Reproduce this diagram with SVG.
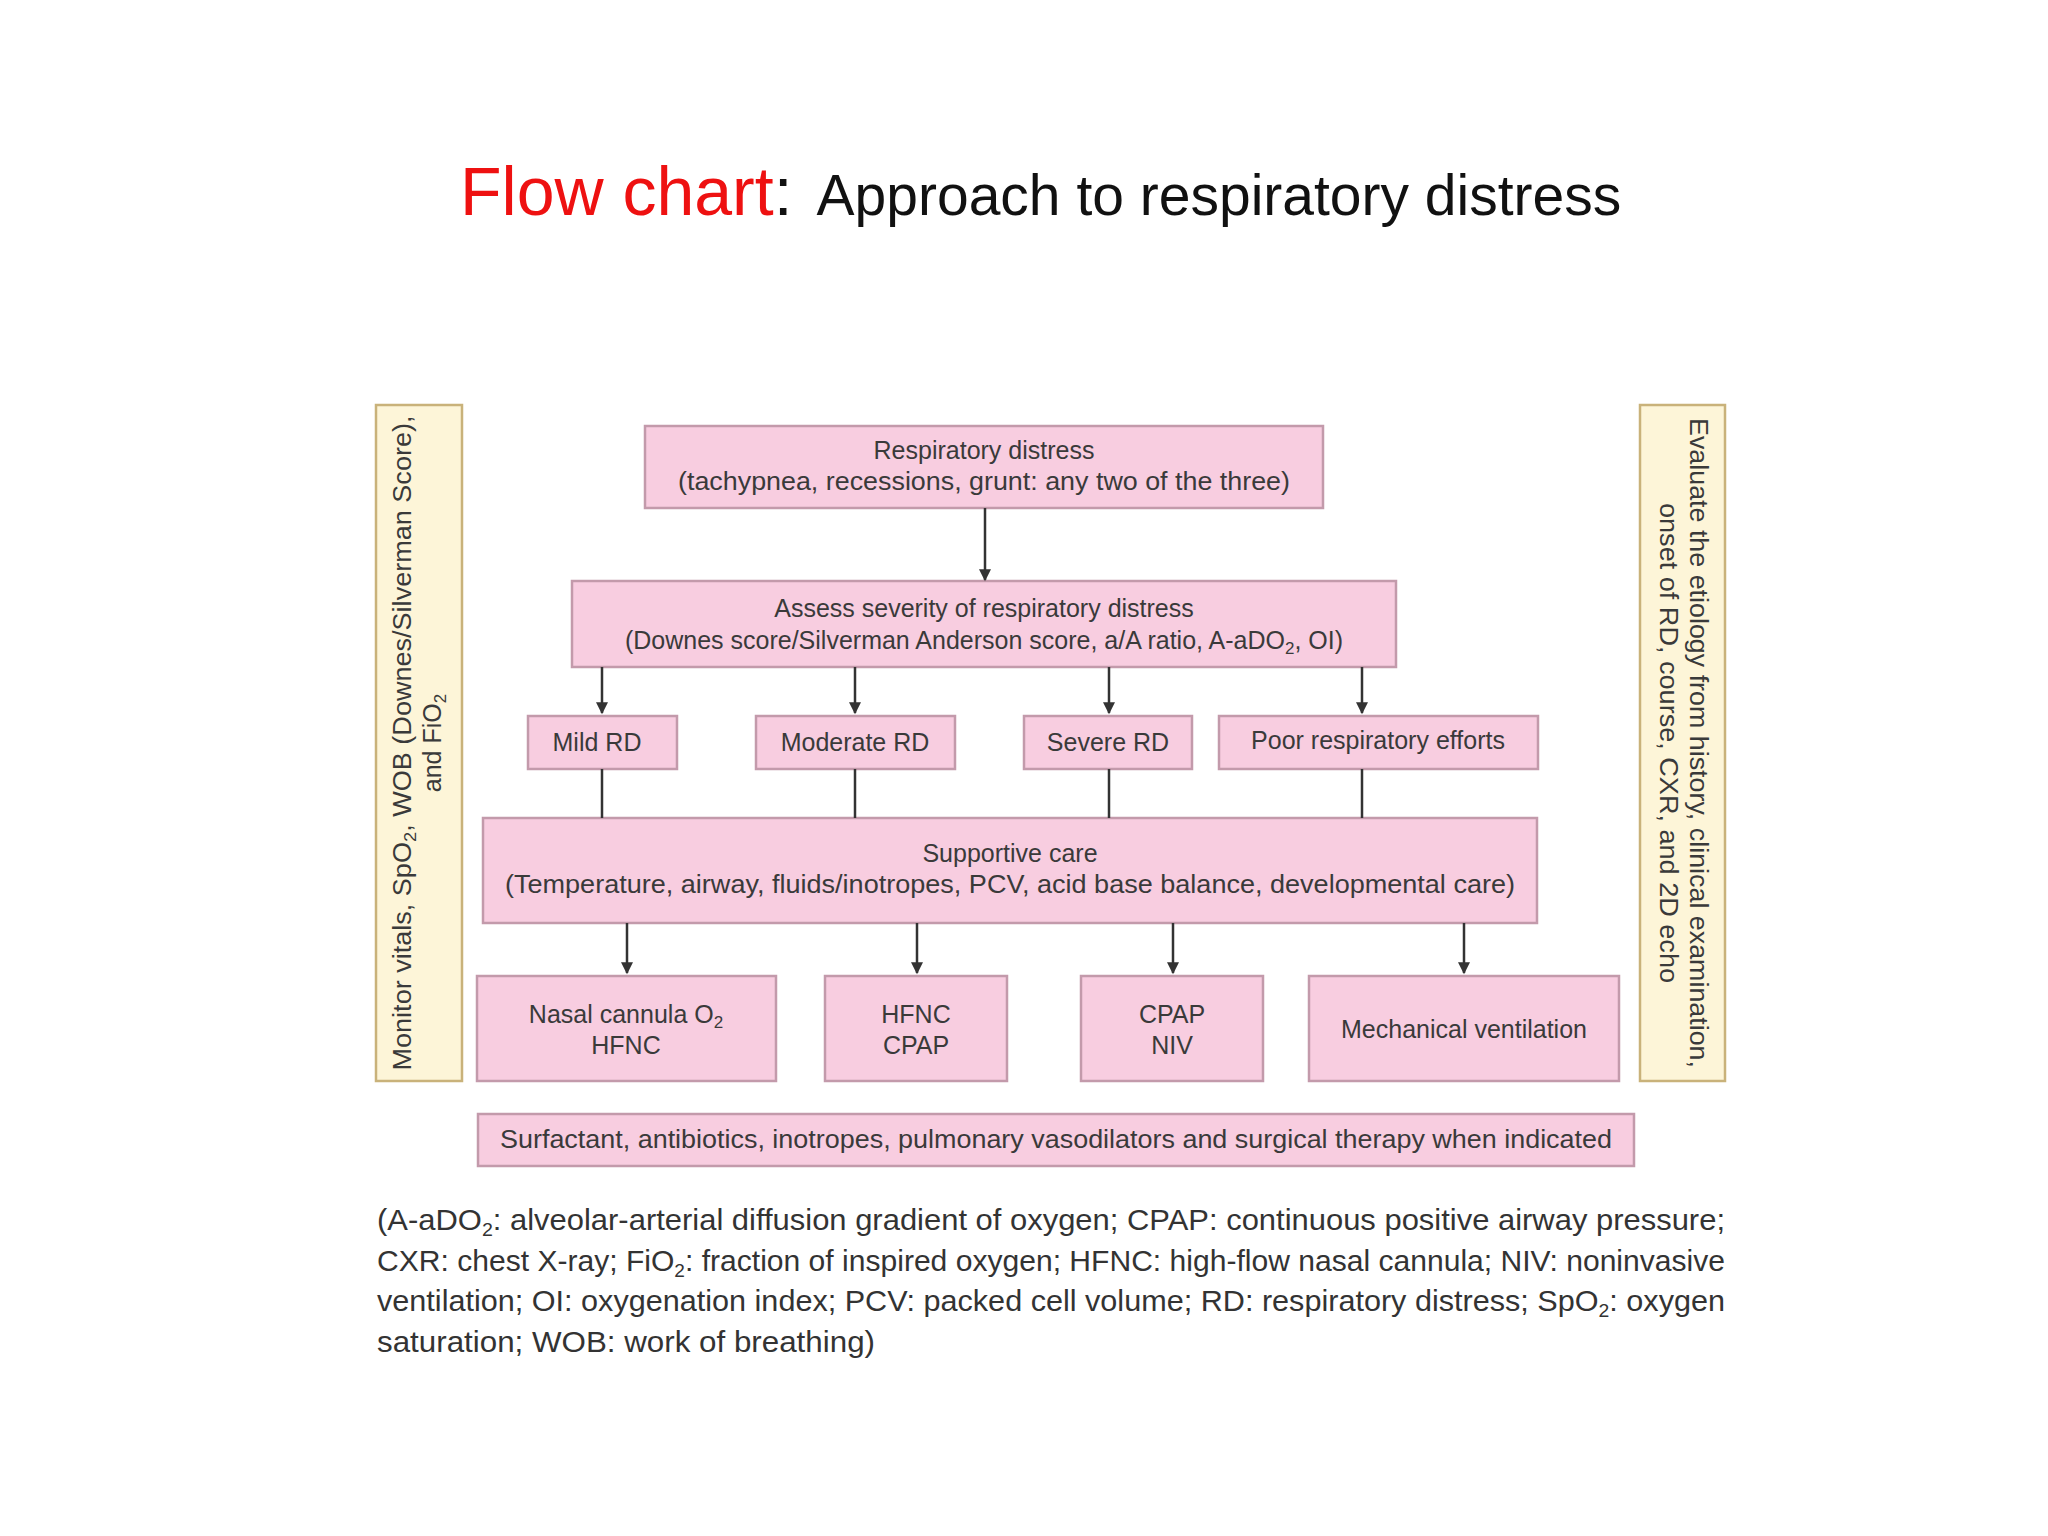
<svg xmlns="http://www.w3.org/2000/svg" width="2048" height="1536" viewBox="0 0 2048 1536">
<defs>
<marker id="ah" viewBox="0 0 10 10" refX="9" refY="5" markerWidth="14" markerHeight="12" markerUnits="userSpaceOnUse" orient="auto"><path d="M0,0 L10,5 L0,10 z" fill="#333"/></marker>
<style>
.b{fill:#f8cde0;stroke:#c39aab;stroke-width:2.5}
.s{fill:#fdf5d8;stroke:#c9b27a;stroke-width:2.5}
.t{font-family:"Liberation Sans",Arial,sans-serif;font-size:25px;fill:#3a3a3a;text-anchor:middle}
.f{font-family:"Liberation Sans",Arial,sans-serif;font-size:30px;fill:#333}
.c{stroke:#333;stroke-width:2.5;fill:none}
</style>
</defs>
<rect width="2048" height="1536" fill="#fff"/>
<text x="460" y="215" font-family="Liberation Sans,Arial,sans-serif" font-size="68" fill="#ee1111">Flow chart<tspan fill="#111">:</tspan><tspan fill="#111" font-size="57" dx="24">Approach to respiratory distress</tspan></text>

<g id="left"><rect class="s" x="376" y="405" width="86" height="676"/>
<text class="t" transform="translate(411,743) rotate(-90)" textLength="655" lengthAdjust="spacingAndGlyphs">Monitor vitals, SpO<tspan font-size="17" dy="5">2</tspan><tspan dy="-5">, WOB (Downes/Silverman Score),</tspan></text>
<text class="t" transform="translate(441,743) rotate(-90)">and FiO<tspan font-size="17" dy="5">2</tspan></text></g>
<g id="right"><rect class="s" x="1640" y="405" width="85" height="676"/>
<text class="t" transform="translate(1690,743) rotate(90)" textLength="650" lengthAdjust="spacingAndGlyphs">Evaluate the etiology from history, clinical examination,</text>
<text class="t" transform="translate(1660,743) rotate(90)" textLength="480" lengthAdjust="spacingAndGlyphs">onset of RD, course, CXR, and 2D echo</text></g>

<g id="n1"><rect class="b" x="645" y="426" width="678" height="82"/>
<text class="t" x="984" y="459">Respiratory distress</text>
<text class="t" x="984" y="490" textLength="612" lengthAdjust="spacingAndGlyphs">(tachypnea, recessions, grunt: any two of the three)</text></g>
<g id="n2"><rect class="b" x="572" y="581" width="824" height="86"/>
<text class="t" x="984" y="617">Assess severity of respiratory distress</text>
<text class="t" x="984" y="649">(Downes score/Silverman Anderson score, a/A ratio, A-aDO<tspan font-size="17" dy="5">2</tspan><tspan dy="-5">, OI)</tspan></text></g>
<g id="mild"><rect class="b" x="528" y="716" width="149" height="53"/><text class="t" x="597" y="751">Mild RD</text></g>
<g id="mod"><rect class="b" x="756" y="716" width="199" height="53"/><text class="t" x="855" y="751">Moderate RD</text></g>
<g id="sev"><rect class="b" x="1024" y="716" width="168" height="53"/><text class="t" x="1108" y="751">Severe RD</text></g>
<g id="poor"><rect class="b" x="1219" y="716" width="319" height="53"/><text class="t" x="1378" y="749">Poor respiratory efforts</text></g>
<g id="sup"><rect class="b" x="483" y="818" width="1054" height="105"/>
<text class="t" x="1010" y="862">Supportive care</text>
<text class="t" x="1010" y="893" textLength="1010" lengthAdjust="spacingAndGlyphs">(Temperature, airway, fluids/inotropes, PCV, acid base balance, developmental care)</text></g>
<g id="nasal"><rect class="b" x="477" y="976" width="299" height="105"/>
<text class="t" x="626" y="1023">Nasal cannula O<tspan font-size="17" dy="5">2</tspan></text>
<text class="t" x="626" y="1054">HFNC</text></g>
<g id="hfnc"><rect class="b" x="825" y="976" width="182" height="105"/>
<text class="t" x="916" y="1023">HFNC</text><text class="t" x="916" y="1054">CPAP</text></g>
<g id="cpap"><rect class="b" x="1081" y="976" width="182" height="105"/>
<text class="t" x="1172" y="1023">CPAP</text><text class="t" x="1172" y="1054">NIV</text></g>
<g id="mech"><rect class="b" x="1309" y="976" width="310" height="105"/>
<text class="t" x="1464" y="1038">Mechanical ventilation</text></g>
<g id="surf"><rect class="b" x="478" y="1114" width="1156" height="52"/>
<text class="t" x="1056" y="1148" textLength="1112" lengthAdjust="spacingAndGlyphs">Surfactant, antibiotics, inotropes, pulmonary vasodilators  and surgical therapy when indicated</text></g>

<g id="connectors">
<line class="c" x1="985" y1="508" x2="985" y2="580" marker-end="url(#ah)"/>
<line class="c" x1="602" y1="667" x2="602" y2="713" marker-end="url(#ah)"/>
<line class="c" x1="855" y1="667" x2="855" y2="713" marker-end="url(#ah)"/>
<line class="c" x1="1109" y1="667" x2="1109" y2="713" marker-end="url(#ah)"/>
<line class="c" x1="1362" y1="667" x2="1362" y2="713" marker-end="url(#ah)"/>
<line class="c" x1="602" y1="769" x2="602" y2="818"/>
<line class="c" x1="855" y1="769" x2="855" y2="818"/>
<line class="c" x1="1109" y1="769" x2="1109" y2="818"/>
<line class="c" x1="1362" y1="769" x2="1362" y2="818"/>
<line class="c" x1="627" y1="923" x2="627" y2="973" marker-end="url(#ah)"/>
<line class="c" x1="917" y1="923" x2="917" y2="973" marker-end="url(#ah)"/>
<line class="c" x1="1173" y1="923" x2="1173" y2="973" marker-end="url(#ah)"/>
<line class="c" x1="1464" y1="923" x2="1464" y2="973" marker-end="url(#ah)"/>
</g>

<g id="footnote">
<text class="f" x="377" y="1230" textLength="1348" lengthAdjust="spacingAndGlyphs">(A-aDO<tspan font-size="19" dy="6">2</tspan><tspan dy="-6">: alveolar-arterial diffusion gradient of oxygen; CPAP: continuous positive airway pressure;</tspan></text>
<text class="f" x="377" y="1271" textLength="1348" lengthAdjust="spacingAndGlyphs">CXR: chest X-ray; FiO<tspan font-size="19" dy="6">2</tspan><tspan dy="-6">: fraction of inspired oxygen; HFNC: high-flow nasal cannula; NIV: noninvasive</tspan></text>
<text class="f" x="377" y="1311" textLength="1348" lengthAdjust="spacingAndGlyphs">ventilation; OI: oxygenation index; PCV: packed cell volume; RD: respiratory distress; SpO<tspan font-size="19" dy="6">2</tspan><tspan dy="-6">: oxygen</tspan></text>
<text class="f" x="377" y="1352" textLength="498" lengthAdjust="spacingAndGlyphs">saturation; WOB: work of breathing)</text>
</g>
</svg>
